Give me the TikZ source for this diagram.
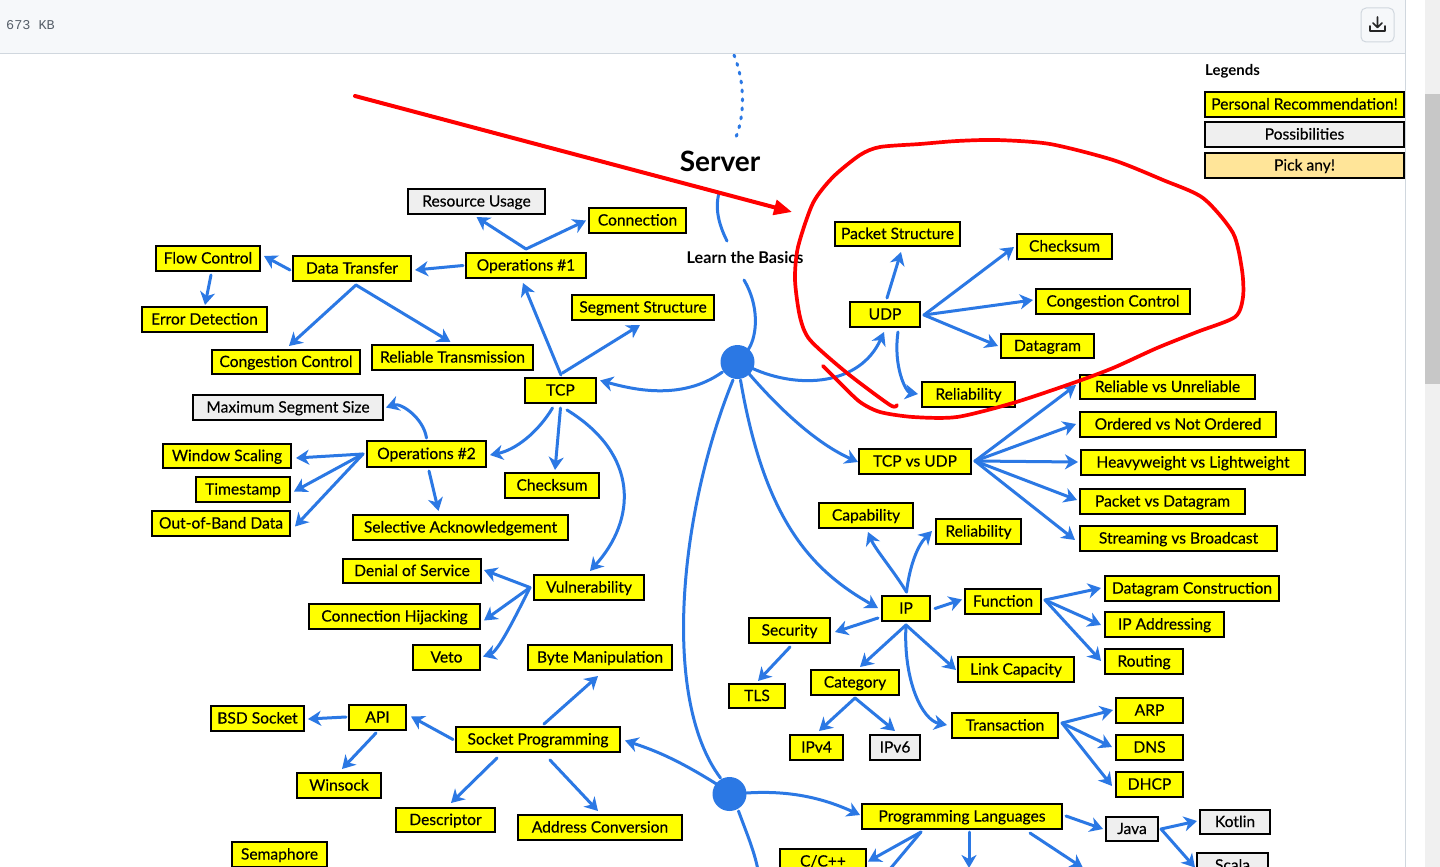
\documentclass[tikz,border=0pt]{standalone}
\usepackage{fontspec}
\setmainfont[FakeBold=0.25]{Lato}
\newfontfamily\boldf{Lato}
\newfontfamily\monof{Liberation Mono}
\usetikzlibrary{arrows.meta}
\definecolor{lnk}{HTML}{2B78E4}
\definecolor{ybox}{HTML}{FFFF00}
\definecolor{gbox}{HTML}{EFEFEF}
\definecolor{obox}{HTML}{FFE599}
\definecolor{barbg}{HTML}{F6F8FA}
\definecolor{barln}{HTML}{D0D7DE}
\definecolor{sizetxt}{HTML}{57606A}
\newcommand\bx[7]{%
  \pgfmathsetmacro\cxx{(#3+#5)/2}%
  \pgfmathsetmacro\cyy{(#4+#6)/2}%
  \node[#1,minimum width={(#5-#3)*1pt},minimum height={(#6-#4)*1pt}] (#2) at (\cxx,\cyy) {#7};}
\begin{document}
\begin{tikzpicture}[x=1pt,y=-1pt,
  bxbase/.style={draw=black,line width=2pt,inner sep=0pt,outer sep=0pt,font=\fontsize{15.6}{16}\selectfont,text height=13pt,text depth=3pt,align=center},
  yb/.style={bxbase,fill=ybox},
  gb/.style={bxbase,fill=gbox},
  ob/.style={bxbase,fill=obox},
  hub/.style={circle,fill=lnk,draw=none,minimum size=34pt,inner sep=0pt,outer sep=0pt},
  arr/.style={draw=lnk,line width=3pt,line cap=round,line join=round,-{Stealth[length=13pt,width=15pt,inset=4pt]}},
  plain/.style={draw=lnk,line width=3pt,line cap=round},
  redline/.style={draw=red,line width=3.7pt,line join=round,line cap=round}]
\useasboundingbox (0,0) rectangle (1440,867);
\begin{scope}
\clip (0,0) rectangle (1440,867);
\fill[white] (0,0) rectangle (1440,867);
% scrollbar
\fill[black!6] (1425,0) rectangle (1440,867);
\fill[black!22] (1425,94) rectangle (1440,384);
\draw[barln,line width=1pt] (1405,0) -- (1405,867);
% titles and hubs
\node[font=\boldf\bfseries\fontsize{28}{28}\selectfont,inner sep=0pt] (srv) at (720,161) {Server};
\node[font=\boldf\bfseries\fontsize{16.2}{16}\selectfont,inner sep=0pt] (lb) at (745,258) {Learn the Basics};
\node[font=\boldf\bfseries\fontsize{15}{15}\selectfont,anchor=west,inner sep=0pt] (lgd) at (1205,71) {Legends};
\node[hub] (h1) at (737.5,362) {};
\node[hub] (h2) at (729.5,794) {};
\coordinate (topc) at (734,55);
\coordinate (off1) at (890,869);
\coordinate (off2) at (969,868);
\coordinate (off3) at (1083,868);
\coordinate (off4) at (758,870);
% boxes
\bx{gb}{res}{408}{189}{545}{214}{Resource Usage}
\bx{yb}{conn}{589}{208}{686}{233}{Connection}
\bx{yb}{flow}{156}{246}{260}{271}{Flow Control}
\bx{yb}{dt}{293}{256}{411}{281}{Data Transfer}
\bx{yb}{op1}{466}{253}{586}{278}{Operations \#1}
\bx{yb}{seg}{572}{295}{714}{320}{Segment Structure}
\bx{yb}{err}{142}{307}{267}{332}{Error Detection}
\bx{yb}{cc1}{212}{350}{360}{374}{Congestion Control}
\bx{yb}{rt}{372}{345}{533}{370}{Reliable Transmission}
\bx{yb}{tcp}{525}{378}{596}{403}{TCP}
\bx{gb}{mss}{193}{395}{383}{420}{Maximum Segment Size}
\bx{yb}{win}{163}{444}{291}{468}{Window Scaling}
\bx{yb}{op2}{367}{441}{486}{467}{Operations \#2}
\bx{yb}{ts}{196}{477}{290}{502}{Timestamp}
\bx{yb}{ck1}{505}{473}{599}{498}{Checksum}
\bx{yb}{oob}{152}{511}{290}{536}{Out-of-Band Data}
\bx{yb}{sack}{353}{515}{568}{540}{Selective Acknowledgement}
\bx{yb}{dos}{343}{559}{481}{583}{Denial of Service}
\bx{yb}{vul}{534}{575}{644}{600}{Vulnerability}
\bx{yb}{hij}{309}{604}{480}{629}{Connection Hijacking}
\bx{yb}{veto}{413}{645}{480}{670}{Veto}
\bx{yb}{byte}{528}{645}{672}{670}{Byte Manipulation}
\bx{yb}{bsd}{211}{706}{304}{731}{BSD Socket}
\bx{yb}{api}{349}{705}{406}{730}{API}
\bx{yb}{sock}{456}{727}{620}{752}{Socket Programming}
\bx{yb}{wsk}{297}{773}{381}{798}{Winsock}
\bx{yb}{desc}{396}{808}{495}{832}{Descriptor}
\bx{yb}{addr}{518}{815}{682}{840}{Address Conversion}
\bx{yb}{sem}{232}{842}{327}{867}{Semaphore}
\bx{yb}{pk}{835}{222}{960}{246}{Packet Structure}
\bx{yb}{ck2}{1017}{234}{1112}{259}{Checksum}
\bx{yb}{cc2}{1036}{289}{1190}{314}{Congestion Control}
\bx{yb}{udp}{850}{302}{920}{327}{UDP}
\bx{yb}{dg}{1001}{334}{1094}{358}{Datagram}
\bx{yb}{rel}{922}{382}{1015}{407}{Reliability}
\bx{yb}{rvu}{1080}{375}{1255}{399}{Reliable vs Unreliable}
\bx{yb}{ono}{1080}{412}{1276}{437}{Ordered vs Not Ordered}
\bx{yb}{tvu}{859}{449}{971}{474}{TCP vs UDP}
\bx{yb}{hvl}{1081}{450}{1305}{475}{Heavyweight vs Lightweight}
\bx{yb}{pvd}{1080}{489}{1245}{514}{Packet vs Datagram}
\bx{yb}{svb}{1080}{526}{1277}{551}{Streaming vs Broadcast}
\bx{yb}{cap}{819}{503}{913}{528}{Capability}
\bx{yb}{rel2}{936}{519}{1021}{544}{Reliability}
\bx{yb}{ip}{882}{596}{930}{621}{IP}
\bx{yb}{fn}{965}{589}{1041}{614}{Function}
\bx{yb}{dc}{1105}{576}{1279}{601}{Datagram Construction}
\bx{yb}{ipa}{1105}{612}{1224}{637}{IP Addressing}
\bx{yb}{sec}{749}{618}{830}{643}{Security}
\bx{yb}{rou}{1105}{649}{1183}{674}{Routing}
\bx{yb}{lc}{958}{657}{1074}{682}{Link Capacity}
\bx{yb}{cat}{811}{670}{899}{695}{Category}
\bx{yb}{tls}{729}{684}{785}{708}{TLS}
\bx{yb}{arp}{1116}{698}{1183}{723}{ARP}
\bx{yb}{trn}{952}{713}{1058}{738}{Transaction}
\bx{yb}{vf}{790}{735}{843}{760}{IPv4}
\bx{gb}{vs}{870}{735}{920}{760}{IPv6}
\bx{yb}{dns}{1116}{735}{1183}{760}{DNS}
\bx{yb}{dhcp}{1116}{772}{1183}{797}{DHCP}
\bx{yb}{pl}{862}{804}{1062}{829}{Programming Languages}
\bx{gb}{jav}{1106}{817}{1158}{841}{Java}
\bx{gb}{kot}{1200}{810}{1270}{834}{Kotlin}
\bx{yb}{cpp}{780}{849}{866}{874}{C/C++}
\bx{gb}{sca}{1197}{853}{1268}{878}{Scala}
\bx{yb}{lg1}{1205}{92}{1404}{117}{Personal Recommendation!}
\bx{gb}{lg2}{1205}{122}{1404}{147}{Possibilities}
\bx{ob}{lg3}{1205}{153}{1404}{178}{Pick any!}
% spine
\draw[draw=lnk,line width=3pt,line cap=round,dash pattern=on 2pt off 7pt] (topc) .. controls +(12,30) and +(8,-20) .. ([shift={(16,-24)}]srv.center);
\draw[plain] ([shift={(-1,32)}]srv.center) .. controls +(-5,18) and +(-6,-12) .. ([shift={(-18,-17)}]lb.center);
\draw[plain] ([shift={(-1,22)}]lb.center) .. controls +(15,25) and +(10,-15) .. ([shift={(10.5,-12)}]h1.center);
\draw[plain] ([shift={(-4.5,18)}]h1.center) .. controls +(-53,130) and +(-60,-80) .. ([shift={(-9,-16)}]h2.center);
\draw[arr] ([shift={(-15,10)}]h1.center) .. controls +(-42,30) and +(30,8) .. ([shift={(4,-10)}]tcp.east);
\draw[arr] ([shift={(14,6)}]h1.center) .. controls +(48,22) and +(-24,53) .. ([shift={(-1,5)}]udp.south);
\draw[arr] ([shift={(10,10)}]h1.center) .. controls +(37,43) and +(-38,-17) .. ([shift={(-1,0.5)}]tvu.west);
\draw[arr] ([shift={(3,18)}]h1.center) .. controls +(24,140) and +(-67,-38) .. ([shift={(-4,-0.5)}]ip.west);
\draw[arr] ([shift={(-13,-10)}]h2.center) .. controls +(-40,-25) and +(30,10) .. ([shift={(5,1)}]sock.east);
\draw[arr] ([shift={(17,-1)}]h2.center) .. controls +(45,-3) and +(-35,-16) .. ([shift={(-2,-1.5)}]pl.west);
\draw[plain] ([shift={(9,17)}]h2.center) .. controls +(8,22) and +(-4,-20) .. (off4);
% TCP side
\draw[arr] ([shift={(0,-4)}]op1.north) -- ([shift={(0,3)}]res.south);
\draw[arr] ([shift={(0,-4)}]op1.north) -- ([shift={(-3,0)}]conn.west);
\draw[arr] ([shift={(-3,0)}]op1.west) -- ([shift={(4,1.5)}]dt.east);
\draw[arr] ([shift={(-3,1.5)}]dt.west) -- ([shift={(4,-2.5)}]flow.east);
\draw[arr] ([shift={(3,4)}]flow.south) -- ([shift={(0.5,-2)}]err.north);
\draw[arr] ([shift={(4,4)}]dt.south) -- ([shift={(3,-4)}]cc1.north);
\draw[arr] ([shift={(4,4)}]dt.south) -- ([shift={(-2,-3)}]rt.north);
\draw[arr] ([shift={(0.5,-3)}]tcp.north) -- ([shift={(-3,5)}]op1.south);
\draw[arr] ([shift={(2,-5)}]tcp.north) -- ([shift={(-3,5)}]seg.south);
\draw[arr] ([shift={(-8,5)}]tcp.south) .. controls +(-15,25) and +(25,-5) .. ([shift={(4,1)}]op2.east);
\draw[arr] ([shift={(0,5)}]tcp.south) -- ([shift={(3,-3)}]ck1.north);
\draw[arr] ([shift={(6.5,7)}]tcp.south) .. controls +(73,45) and +(46,-51) .. ([shift={(1,-4)}]vul.north);
\draw[arr] ([shift={(0,-3)}]op2.north) .. controls +(-3,-20) and +(15,-5) .. ([shift={(3,0)}]mss.east);
\draw[arr] ([shift={(-4,0)}]op2.west) -- ([shift={(5,2)}]win.east);
\draw[arr] ([shift={(-4,0)}]op2.west) -- ([shift={(4,2)}]ts.east);
\draw[arr] ([shift={(-4,0)}]op2.west) -- ([shift={(5,3)}]oob.east);
\draw[arr] ([shift={(2.5,4)}]op2.south) -- ([shift={(-22,-4)}]sack.north);
\draw[arr] ([shift={(-4,0)}]vul.west) -- ([shift={(3,-1)}]dos.east);
\draw[arr] ([shift={(-4,0)}]vul.west) -- ([shift={(4,4)}]hij.east);
\draw[arr] ([shift={(-4,0)}]vul.west) .. controls +(-15,30) and +(15,-5) .. ([shift={(3,-1)}]veto.east);
\draw[arr] ([shift={(6,-3)}]sock.north) -- ([shift={(-2,6)}]byte.south);
\draw[arr] ([shift={(-3,0)}]sock.west) -- ([shift={(5,-1)}]api.east);
\draw[arr] ([shift={(-41,6)}]sock.south) -- ([shift={(5.5,-5)}]desc.north);
\draw[arr] ([shift={(12,8)}]sock.south) -- ([shift={(-2,-4)}]addr.north);
\draw[arr] ([shift={(-3,-0.5)}]api.west) -- ([shift={(4,0.5)}]bsd.east);
\draw[arr] ([shift={(-1.5,3)}]api.south) -- ([shift={(3,-4)}]wsk.north);
% UDP and TCP vs UDP
\draw[arr] ([shift={(2,-4)}]udp.north) -- ([shift={(3.5,6)}]pk.south);
\draw[arr] ([shift={(4,0.5)}]udp.east) -- ([shift={(-3,0.5)}]ck2.west);
\draw[arr] ([shift={(4,0.5)}]udp.east) -- ([shift={(-3,-1.5)}]cc2.west);
\draw[arr] ([shift={(4,0.5)}]udp.east) -- ([shift={(-3,0)}]dg.west);
\draw[arr] ([shift={(13,5)}]udp.south) .. controls +(-5,35) and +(-12,-2) .. ([shift={(-4,-0.5)}]rel.west);
\draw[arr] ([shift={(4,-0.5)}]tvu.east) -- ([shift={(-4,-2)}]rvu.west);
\draw[arr] ([shift={(4,-0.5)}]tvu.east) -- ([shift={(-4,-0.5)}]ono.west);
\draw[arr] ([shift={(4,-0.5)}]tvu.east) -- ([shift={(-3,-0.5)}]hvl.west);
\draw[arr] ([shift={(4,-0.5)}]tvu.east) -- ([shift={(-3,-1.5)}]pvd.west);
\draw[arr] ([shift={(4,-0.5)}]tvu.east) -- ([shift={(-5,1.5)}]svb.west);
% IP
\draw[arr] ([shift={(0.5,-4)}]ip.north) .. controls +(-12,-20) and +(7,17) .. ([shift={(2,4)}]cap.south);
\draw[arr] ([shift={(0.5,-4)}]ip.north) .. controls +(3,-25) and +(-15,15) .. ([shift={(-4,-0.5)}]rel2.west);
\draw[arr] ([shift={(5,0)}]ip.east) -- ([shift={(-3,-2)}]fn.west);
\draw[arr] ([shift={(-4,9.5)}]ip.west) -- ([shift={(5,1.5)}]sec.east);
\draw[arr] ([shift={(0,4)}]ip.south) -- ([shift={(5,-3)}]cat.north);
\draw[arr] ([shift={(0,4)}]ip.south) -- ([shift={(-2,0.5)}]lc.west);
\draw[arr] ([shift={(0,4)}]ip.south) .. controls +(-3,55) and +(-25,-5) .. ([shift={(-5,-0.5)}]trn.west);
\draw[arr] ([shift={(4,-1.5)}]fn.east) -- ([shift={(-4,-0.5)}]dc.west);
\draw[arr] ([shift={(4,-1.5)}]fn.east) -- ([shift={(-4,0.5)}]ipa.west);
\draw[arr] ([shift={(4,-1.5)}]fn.east) -- ([shift={(-4,-0.5)}]rou.west);
\draw[arr] ([shift={(0.5,4)}]sec.south) -- ([shift={(1,-3)}]tls.north);
\draw[arr] ([shift={(0,3)}]cat.south) -- ([shift={(2.5,-4)}]vf.north);
\draw[arr] ([shift={(0,3)}]cat.south) -- ([shift={(0,-4)}]vs.north);
\draw[arr] ([shift={(4,-2.5)}]trn.east) -- ([shift={(-3,-0.5)}]arp.west);
\draw[arr] ([shift={(4,-2.5)}]trn.east) -- ([shift={(-4,-0.5)}]dns.west);
\draw[arr] ([shift={(4,-2.5)}]trn.east) -- ([shift={(-4,1.5)}]dhcp.west);
% Programming languages
\draw[arr] ([shift={(4,-0.5)}]pl.east) -- ([shift={(-3,0)}]jav.west);
\draw[arr] ([shift={(-41,3)}]pl.south) -- ([shift={(2,0)}]cpp.east);
\draw[plain] ([shift={(-41,3)}]pl.south) -- (off1);
\draw[arr] ([shift={(7,3)}]pl.south) -- (off2);
\draw[arr] ([shift={(68,4)}]pl.south) -- (off3);
\draw[arr] ([shift={(3,0)}]jav.east) -- ([shift={(-3,-1)}]kot.west);
\draw[arr] ([shift={(3,0)}]jav.east) -- ([shift={(-2,2)}]sca.west);
% red annotation
\coordinate (ra) at (355,96);
\coordinate (rb) at (792,212);
\draw[draw=red,line width=4pt,line cap=round,-{Stealth[length=18pt,width=15pt,inset=0pt]}] (ra) -- (rb);
\draw[redline] plot[smooth,tension=0.45] coordinates {(823,366) (840,383) (860,402) (880,412) (913,417) (957,417) (1013,403) (1073,383) (1113,368) (1157,348) (1197,332) (1235,317) (1243,297) (1242,270) (1233,233) (1203,198) (1163,180) (1113,160) (1050,144) (997,140) (957,141) (920,144) (880,147) (860,155) (833,177) (813,203) (798,247) (795,280) (800,317) (810,340) (847,373) (890,405) (897,405)};
% top bar
\fill[barbg] (0,0) rectangle (1405,53);
\draw[barln,line width=1pt] (0,53.5) -- (1405,53.5);
\node[anchor=west,inner sep=0pt,font=\monof\fontsize{13.5}{14}\selectfont,text=sizetxt] (size) at (6,25) {673 KB};
\node[draw=barln,fill=barbg,line width=1pt,rounded corners=5pt,minimum width=33pt,minimum height=34pt,inner sep=0pt] (dl) at (1377.5,25) {};
\draw[line width=1.7pt,black!85,line cap=round,line join=round] (1370,26) -- (1370,31) -- (1385,31) -- (1385,26);
\draw[line width=1.7pt,black!85,line cap=round,line join=round] (1377.5,17) -- (1377.5,27) (1373,23) -- (1377.5,27.5) -- (1382,23);
\end{scope}
\end{tikzpicture}
\end{document}
